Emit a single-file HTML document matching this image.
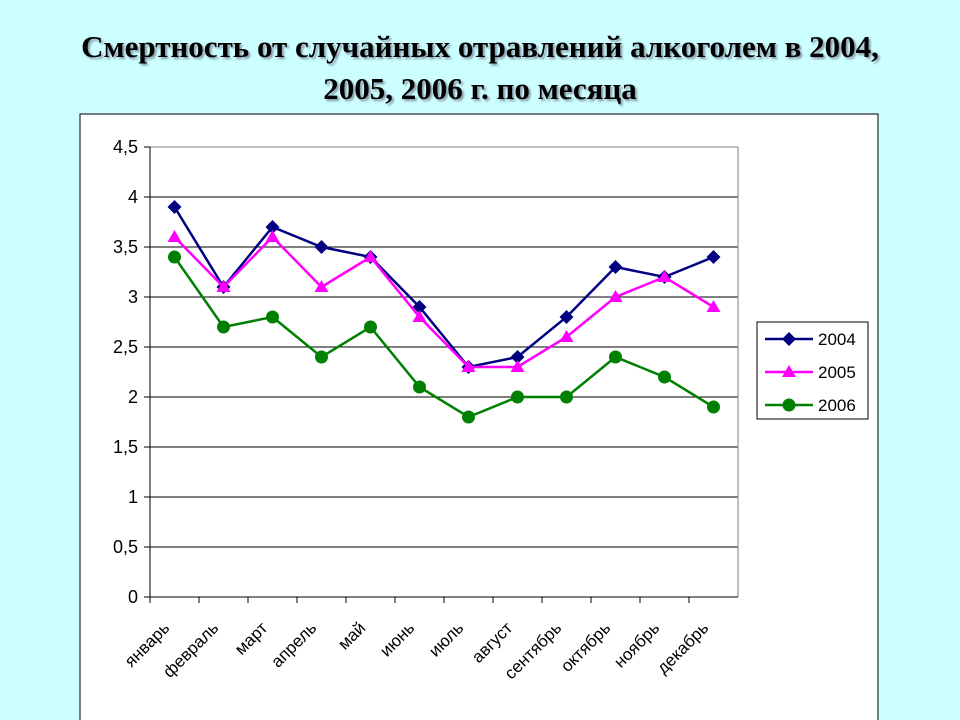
<!DOCTYPE html>
<html><head><meta charset="utf-8"><style>
body{margin:0;background:#ccffff;width:960px;height:720px;overflow:hidden;font-family:"Liberation Sans",sans-serif}
.t{position:absolute;left:0;width:960px;text-align:center;font:bold 31px "Liberation Serif",serif;color:#000;text-shadow:2px 2px 2px #8899aa;line-height:42px}
</style></head><body>
<div class="t" style="top:26px">Смертность от случайных отравлений алкоголем в 2004,<br>2005, 2006 г. по месяца</div>
<svg id="c" width="960" height="720" style="position:absolute;left:0;top:0">
<rect x="80" y="114" width="798" height="610" fill="#fff" stroke="#000"/>
</svg>
<script>
const months=["январь","февраль","март","апрель","май","июнь","июль","август","сентябрь","октябрь","ноябрь","декабрь"];
const s2004=[3.9,3.1,3.7,3.5,3.4,2.9,2.3,2.4,2.8,3.3,3.2,3.4];
const s2005=[3.6,3.1,3.6,3.1,3.4,2.8,2.3,2.3,2.6,3.0,3.2,2.9];
const s2006=[3.4,2.7,2.8,2.4,2.7,2.1,1.8,2.0,2.0,2.4,2.2,1.9];
const yTicks=["0","0,5","1","1,5","2","2,5","3","3,5","4","4,5"];
const svg=document.getElementById('c'),NS="http://www.w3.org/2000/svg";
const L=150,R=738,T=147,B=597,yMax=4.5;
const bw=(R-L)/months.length;
const x=i=>L+bw*(i+0.5), y=v=>B-(v/yMax)*(B-T);
function mk(t,a,name){const e=document.createElementNS(NS,t);for(const k in a)e.setAttribute(k,a[k]);


svg.appendChild(e);return e;}
yTicks.forEach((lab,i)=>{const v=i*0.5,yy=y(v);
if(i>0)mk('line',{x1:L,x2:R,y1:yy,y2:yy,stroke:i==9?'#808080':'#000','stroke-width':1},'gridline');
mk('line',{x1:L-6,x2:L,y1:yy,y2:yy,stroke:'#000'},'y-tick');
const t=mk('text',{x:L-12,y:yy+6,'text-anchor':'end','font-size':18,'font-family':'Liberation Sans'},'y-tick-label');t.textContent=lab;});
mk('line',{x1:R,x2:R,y1:T,y2:B,stroke:'#808080'},'plot-right-border');
mk('line',{x1:L,x2:L,y1:T,y2:B,stroke:'#000'},'y-axis');
mk('line',{x1:L,x2:R,y1:B,y2:B,stroke:'#000'},'x-axis');
months.forEach((m,i)=>{const xx=L+bw*i;mk('line',{x1:xx,x2:xx,y1:B,y2:B+6,stroke:'#000'},'x-tick');
const cx=x(i)-4,cy=B+32;const t=mk('text',{x:cx,y:cy,'text-anchor':'end','font-size':17,'font-family':'Liberation Sans',transform:`rotate(-45 ${cx} ${cy})`},'x-tick-label');t.textContent=m;});
const series=[{d:s2004,c:'#000080',m:'d',n:'2004'},{d:s2005,c:'#ff00ff',m:'t',n:'2005'},{d:s2006,c:'#008000',m:'c',n:'2006'}];
function marker(s,cx,cy,name){if(s.m=='d')mk('polygon',{points:`${cx},${cy-7} ${cx+7},${cy} ${cx},${cy+7} ${cx-7},${cy}`,fill:s.c},name);
else if(s.m=='t')mk('polygon',{points:`${cx},${cy-7} ${cx+7},${cy+5} ${cx-7},${cy+5}`,fill:s.c},name);
else mk('circle',{cx,cy,r:6.5,fill:s.c},name);}
series.forEach(s=>{mk('polyline',{points:s.d.map((v,i)=>x(i)+','+y(v)).join(' '),fill:'none',stroke:s.c,'stroke-width':2.5},'line-'+s.n);
s.d.forEach((v,i)=>marker(s,x(i),y(v),'point-'+s.n));});
mk('rect',{x:757,y:322,width:111,height:97,fill:'#fff',stroke:'#000'},'legend');
series.forEach((s,i)=>{const yy=339+i*33;mk('line',{x1:765,x2:813,y1:yy,y2:yy,stroke:s.c,'stroke-width':2.5},'legend-line');
marker(s,789,yy,'legend-marker');const t=mk('text',{x:818,y:yy+6,'font-size':17,'font-family':'Liberation Sans'},'legend-label');t.textContent=s.n;});
</script>
</body></html>
